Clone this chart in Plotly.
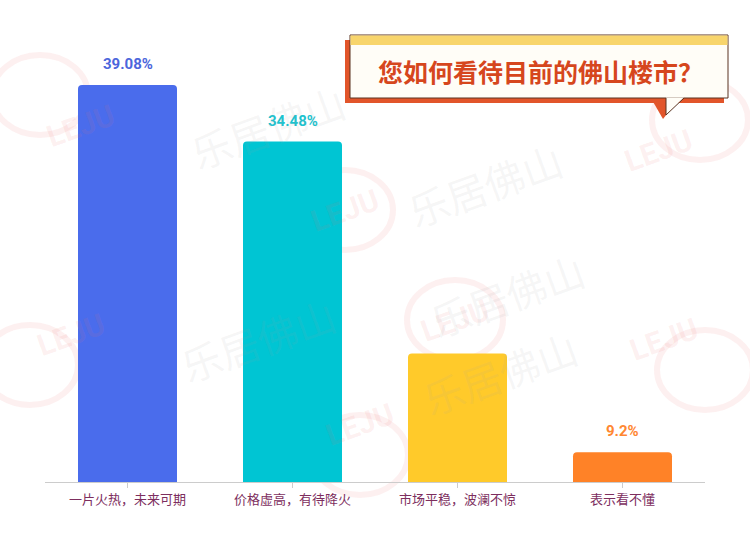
import plotly.graph_objects as go

categories = ["一片火热，未来可期", "价格虚高，有待降火", "市场平稳，波澜不惊", "表示看不懂"]
values = [39.08, 34.48, 17.24, 9.2]
value_labels = ["39.08%", "34.48%", "", "9.2%"]
bar_colors = ["#4a6cec", "#00c5d3", "#ffca2a", "#ff8227"]
label_colors = ["#4c66dc", "#1cc3cf", "#ffca2a", "#ff8731"]
title_text = "您如何看待目前的佛山楼市？"
watermark_text = "乐居佛山"

W, H = 750, 538


def px(x):
    return x / W


def py(y):
    return 1 - y / H


fig = go.Figure()
fig.add_trace(go.Bar(
    x=categories, y=values,
    marker=dict(color=bar_colors, cornerradius=4, line=dict(width=0)),
    hoverinfo="skip",
))

annotations = []
for c, v, t, col in zip(categories, values, value_labels, label_colors):
    if t:
        annotations.append(dict(
            x=c, y=v, xref="x", yref="y", text=f"<b>{t}</b>", showarrow=False,
            yanchor="bottom", yshift=10,
            font=dict(family="Roboto, 'Noto Sans', sans-serif", size=15, color=col),
        ))

# watermark
wm_logos = [(40, 95), (345, 210), (30, 365), (455, 320), (360, 455), (700, 120), (705, 370)]
wm_with_text = [True, True, True, True, True, False, False]
for (lx, ly), show_t in zip(wm_logos, wm_with_text):
    annotations.append(dict(
        x=px(lx), y=py(ly), xref="paper", yref="paper", text="<b>LEJU</b>",
        showarrow=False, textangle=-20,
        font=dict(family="Roboto, sans-serif", size=30, color="rgba(235,110,110,0.10)"),
    ))
    if show_t:
        annotations.append(dict(
            x=px(lx + 140), y=py(ly - 25), xref="paper", yref="paper", text=watermark_text,
            showarrow=False, textangle=-20,
            font=dict(family="Noto Sans CJK SC", size=40, color="rgba(160,160,160,0.10)"),
        ))

annotations.append(dict(
    x=px(540), y=py(71), xref="paper", yref="paper", text=f"<b>{title_text}</b>",
    showarrow=False, xanchor="center", yanchor="middle",
    font=dict(family="Noto Sans CJK SC", size=25, color="#d6461d"),
))

shapes = []
for (lx, ly) in wm_logos:
    shapes.append(dict(type="circle", xref="paper", yref="paper",
                       x0=px(lx - 48), x1=px(lx + 48), y0=py(ly + 40), y1=py(ly - 40),
                       line=dict(color="rgba(235,110,110,0.10)", width=6), layer="below"))

# title bubble
shapes += [
    dict(type="rect", xref="paper", yref="paper", x0=px(345), x1=px(724), y0=py(103), y1=py(40),
         fillcolor="#e2552a", line=dict(width=0), layer="above"),
    dict(type="path", xref="paper", yref="paper",
         path=f"M {px(652)} {py(100)} L {px(663)} {py(119)} L {px(678)} {py(100)} Z",
         fillcolor="#e2552a", line=dict(width=0), layer="above"),
    dict(type="rect", xref="paper", yref="paper", x0=px(350), x1=px(728), y0=py(98), y1=py(35),
         fillcolor="#fffdf7", line=dict(color="#5a3320", width=1), layer="above"),
    dict(type="rect", xref="paper", yref="paper", x0=px(350.5), x1=px(727.5), y0=py(45), y1=py(35.5),
         fillcolor="#f8d56c", line=dict(width=0), layer="above"),
    dict(type="path", xref="paper", yref="paper",
         path=f"M {px(666)} {py(97.5)} L {px(666)} {py(115)} L {px(684)} {py(97.5)} Z",
         fillcolor="#fffdf7", line=dict(width=0), layer="above"),
    dict(type="path", xref="paper", yref="paper",
         path=f"M {px(666)} {py(98)} L {px(666)} {py(115)} L {px(684)} {py(98)}",
         line=dict(color="#5a3320", width=1), layer="above"),
]

fig.update_layout(
    width=W, height=H,
    margin=dict(l=0, r=0, t=0, b=0),
    paper_bgcolor="white", plot_bgcolor="rgba(0,0,0,0)",
    bargap=0.4,
    showlegend=False,
    xaxis=dict(
        domain=[px(45), px(705)],
        showline=True, linecolor="#cccccc", linewidth=1,
        ticks="outside", ticklen=5, tickcolor="#cccccc",
        tickfont=dict(family="Noto Sans CJK SC", size=13, color="#7d2e5e"),
        showgrid=False, zeroline=False, fixedrange=True,
    ),
    yaxis=dict(
        domain=[1 - 482 / H, 1 - 42 / H],
        range=[6.78, 42.58],
        visible=False, showgrid=False, zeroline=False,
    ),
    annotations=annotations,
    shapes=shapes,
)

fig.write_html("out.html")
